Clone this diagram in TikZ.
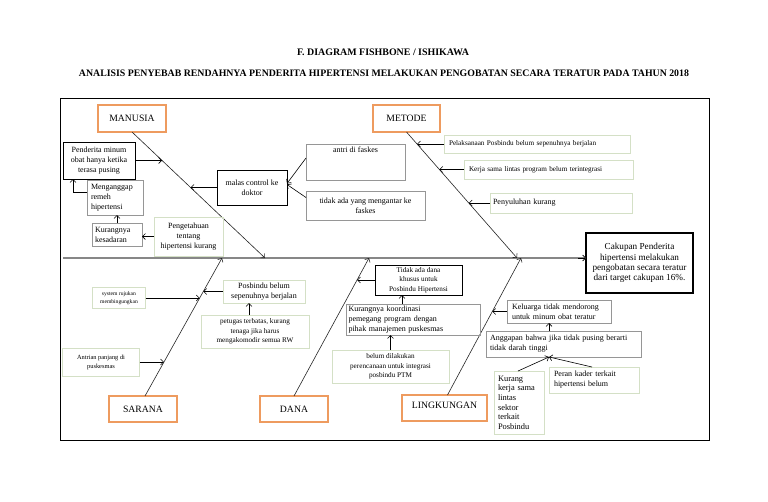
\documentclass[tikz,border=0pt]{standalone}
\usepackage{fontspec}
\setmainfont{Liberation Serif}
\usetikzlibrary{arrows.meta,intersections,calc}
\definecolor{orng}{RGB}{238,155,95}
\definecolor{gbord}{RGB}{150,150,150}
\definecolor{lgreen}{RGB}{212,224,198}
\definecolor{spinec}{RGB}{135,135,135}
\newcommand\tobone[3]{%
  \path[name path=hh] (#1) -- ++(#2,0);
  \draw[arr, name intersections={of=hh and #3, by=ix}] (#1) -- (ix);}
\begin{document}
\begin{tikzpicture}[x=1pt,y=-1pt,
  every node/.style={inner sep=0pt, outer sep=0pt},
  cat/.style={draw=orng, line width=1.6pt, fill=white, font=\fontsize{9.7}{11}\selectfont, minimum height=27pt},
  bx/.style={rectangle, font=\fontsize{8}{10}\selectfont, line width=0.6pt, align=center},
  sm/.style={font=\fontsize{7.2}{9.6}\selectfont},
  blk/.style={bx, draw=black, line width=1pt},
  gry/.style={bx, draw=gbord},
  lgr/.style={bx, draw=lgreen},
  arr/.style={-{Straight Barb[length=3pt,width=6pt]}, line width=0.6pt},
  bone/.style={line width=0.7pt, draw=black!85},
]
\useasboundingbox (0,0) rectangle (768,501);
\fill[white] (0,0) rectangle (768,501);
\draw[line width=0.8pt] (60,98) rectangle (709,440);

% titles
\node (t1) at (383,52) {\resizebox{172pt}{6.6pt}{\bfseries F. DIAGRAM FISHBONE / ISHIKAWA}};
\node (t2) at (384,73) {\resizebox{610pt}{6.6pt}{\bfseries ANALISIS PENYEBAB RENDAHNYA PENDERITA HIPERTENSI MELAKUKAN PENGOBATAN SECARA TERATUR PADA TAHUN 2018}};

% effect
\node[blk, line width=1.8pt, font=\fontsize{9.2}{10.2}\selectfont, minimum width=107pt, minimum height=60pt] (effect) at (639.5,263)
  {Cakupan Penderita\\hipertensi melakukan\\pengobatan secara teratur\\dari target cakupan 16\%.};

% spine
\coordinate (spL) at (63,258);
\draw[line width=1.5pt, draw=spinec] (spL) -- (spL -| effect.west);
\draw[arr] ([xshift=-8pt]spL -| effect.west) -- (spL -| effect.west);

% categories
\node[cat, minimum width=68pt] (manusia) at (132,118.5) {MANUSIA};
\node[cat, minimum width=67pt] (metode) at (406.5,118.5) {METODE};
\node[cat, minimum width=68pt, minimum height=26pt] (sarana) at (143,409) {SARANA};
\node[cat, minimum width=68pt, minimum height=26pt] (dana) at (294,409) {DANA};
\node[cat, minimum width=85pt, minimum height=26pt, text depth=5pt] (lingk) at (444.5,408) {LINGKUNGAN};

% spine points
\coordinate (mS) at (265,258);
\coordinate (tS) at (517,258);
\coordinate (sS) at (222,258);
\coordinate (dS) at (369,258);
\coordinate (lS) at (521,258);

% bones
\draw[bone, arr, name path=bman] (manusia.south) -- (mS);
\draw[bone, arr, name path=bmet] (metode.south) -- (tS);
\draw[bone, arr, name path=bsar] ([xshift=2pt]sarana.north) -- (sS);
\draw[bone, arr, name path=bdan] (dana.north) -- (dS);
\draw[bone, arr, name path=blin] ([xshift=3pt]lingk.north) -- (lS);

% MANUSIA causes
\node[blk, minimum width=72pt, minimum height=37pt] (pend) at (99,160.5) {Penderita minum\\obat hanya ketika\\terasa pusing};
\node[gry, minimum width=56pt, minimum height=35pt, text width=48pt, align=left] (meng) at (115,197.5) {Menganggap\\remeh\\hipertensi};
\node[gry, minimum width=50pt, minimum height=23pt, text width=44pt, align=left] (kurkes) at (117,234.5) {Kurangnya\\kesadaran};
\node[lgr, minimum width=69pt, minimum height=39pt] (penget) at (188.5,236.5) {Pengetahuan\\tentang\\hipertensi kurang};
\node[blk, minimum width=70pt, minimum height=35pt] (malas) at (252,187.5) {malas control ke\\doktor};
\node[gry, minimum width=99pt, minimum height=36pt, text depth=25pt] (antri) at (355.5,162) {antri di faskes};
\node[gry, minimum width=119pt, minimum height=29pt] (tidakantar) at (365.5,205.5) {tidak ada yang mengantar ke\\faskes};

\tobone{pend.east}{80}{bman}
\tobone{malas.west}{-80}{bman}
\draw[arr] ([yshift=5pt]meng.west) -| ([xshift=-26pt]pend.south);
\draw[arr] (kurkes.north) -- (kurkes.north |- meng.south);
\draw[arr] (penget.west) -- (penget.west -| kurkes.east);
\draw[arr] ([yshift=4pt]antri.west) -- ([yshift=4pt]malas.east);
\draw[arr] ([yshift=8pt]tidakantar.west) -- ([yshift=3pt]malas.east);

% METODE causes
\node[lgr, sm, minimum width=186pt, minimum height=18pt, text width=176pt, align=left] (pelak) at (537,144) {Pelaksanaan Posbindu belum sepenuhnya berjalan};
\node[lgr, sm, minimum width=169pt, minimum height=19pt, text width=159pt, align=left] (kerja) at (548.5,169.5) {Kerja sama lintas program belum terintegrasi};
\node[lgr, minimum width=142pt, minimum height=20pt, text width=136pt, align=left] (penyul) at (561,203) {Penyuluhan kurang};
\tobone{pelak.west}{-80}{bmet}
\tobone{kerja.west}{-80}{bmet}
\tobone{penyul.west}{-80}{bmet}

% SARANA causes
\node[lgr, font=\fontsize{5.6}{8}\selectfont, minimum width=53pt, minimum height=21pt] (sistem) at (119,298) {system rujukan\\membingungkan};
\node[lgr, font=\fontsize{6.4}{9}\selectfont, minimum width=77pt, minimum height=28pt] (antrian) at (101,362) {Antrian panjang di\\puskesmas};
\node[lgr, minimum width=82pt, minimum height=23pt] (posb) at (264,291.5) {Posbindu belum\\sepenuhnya berjalan};
\node[lgr, sm, minimum width=108pt, minimum height=33pt] (petugas) at (255,331.5) {petugas terbatas, kurang\\tenaga jika harus\\mengakomodir semua RW};
\tobone{sistem.east}{80}{bsar}
\tobone{antrian.east}{80}{bsar}
\tobone{posb.west}{-80}{bsar}
\draw[arr] ([xshift=-6pt]petugas.north) -- ([xshift=-6pt]petugas.north |- posb.south);

% DANA causes
\node[blk, sm, minimum width=87pt, minimum height=30pt] (tidakdana) at (418.5,280) {Tidak ada dana\\khusus untuk\\Posbindu Hipertensi};
\node[gry, minimum width=134pt, minimum height=31pt, text width=129pt, align=left] (koord) at (413,319.5) {Kurangnya koordinasi\\pemegang program dengan\\pihak manajemen puskesmas};
\node[lgr, sm, minimum width=117pt, minimum height=33pt] (belum) at (390.5,366.5) {belum dilakukan\\perencanaan untuk integrasi\\posbindu PTM};
\tobone{tidakdana.west}{-80}{bdan}
\draw[arr] ([xshift=-11pt]koord.north) -- ([xshift=-11pt]koord.north |- tidakdana.south);
\draw[arr] (belum.north) -- (belum.north |- koord.south);

% LINGKUNGAN causes
\node[gry, minimum width=104pt, minimum height=23pt, text width=94pt, align=left] (kelu) at (559,311.5) {Keluarga tidak mendorong\\untuk minum obat teratur};
\node[gry, minimum width=155pt, minimum height=26pt, text width=147pt, align=left] (angg) at (563.5,344) {Anggapan bahwa jika tidak pusing berarti\\tidak darah tinggi};
\node[lgr, font=\fontsize{8.4}{9.6}\selectfont, minimum width=50pt, minimum height=63pt, text width=42pt, align=left] (kurkerja) at (519,402.5) {Kurang\\kerja sama\\lintas\\sektor\\terkait\\Posbindu};
\node[lgr, minimum width=90pt, minimum height=26pt, text width=80pt, align=left] (peran) at (594,380) {Peran kader terkait\\hipertensi belum};
\tobone{kelu.west}{-80}{blin}
\draw[arr] ([xshift=-14.5pt]angg.north) -- ([xshift=-14.5pt]angg.north |- kelu.south);
\draw[arr] ([xshift=-1pt]kurkerja.north) -- ([xshift=-14.5pt]angg.south);
\draw[arr] ([xshift=-2pt]peran.north) -- ([xshift=-14.5pt]angg.south);
\end{tikzpicture}
\end{document}
